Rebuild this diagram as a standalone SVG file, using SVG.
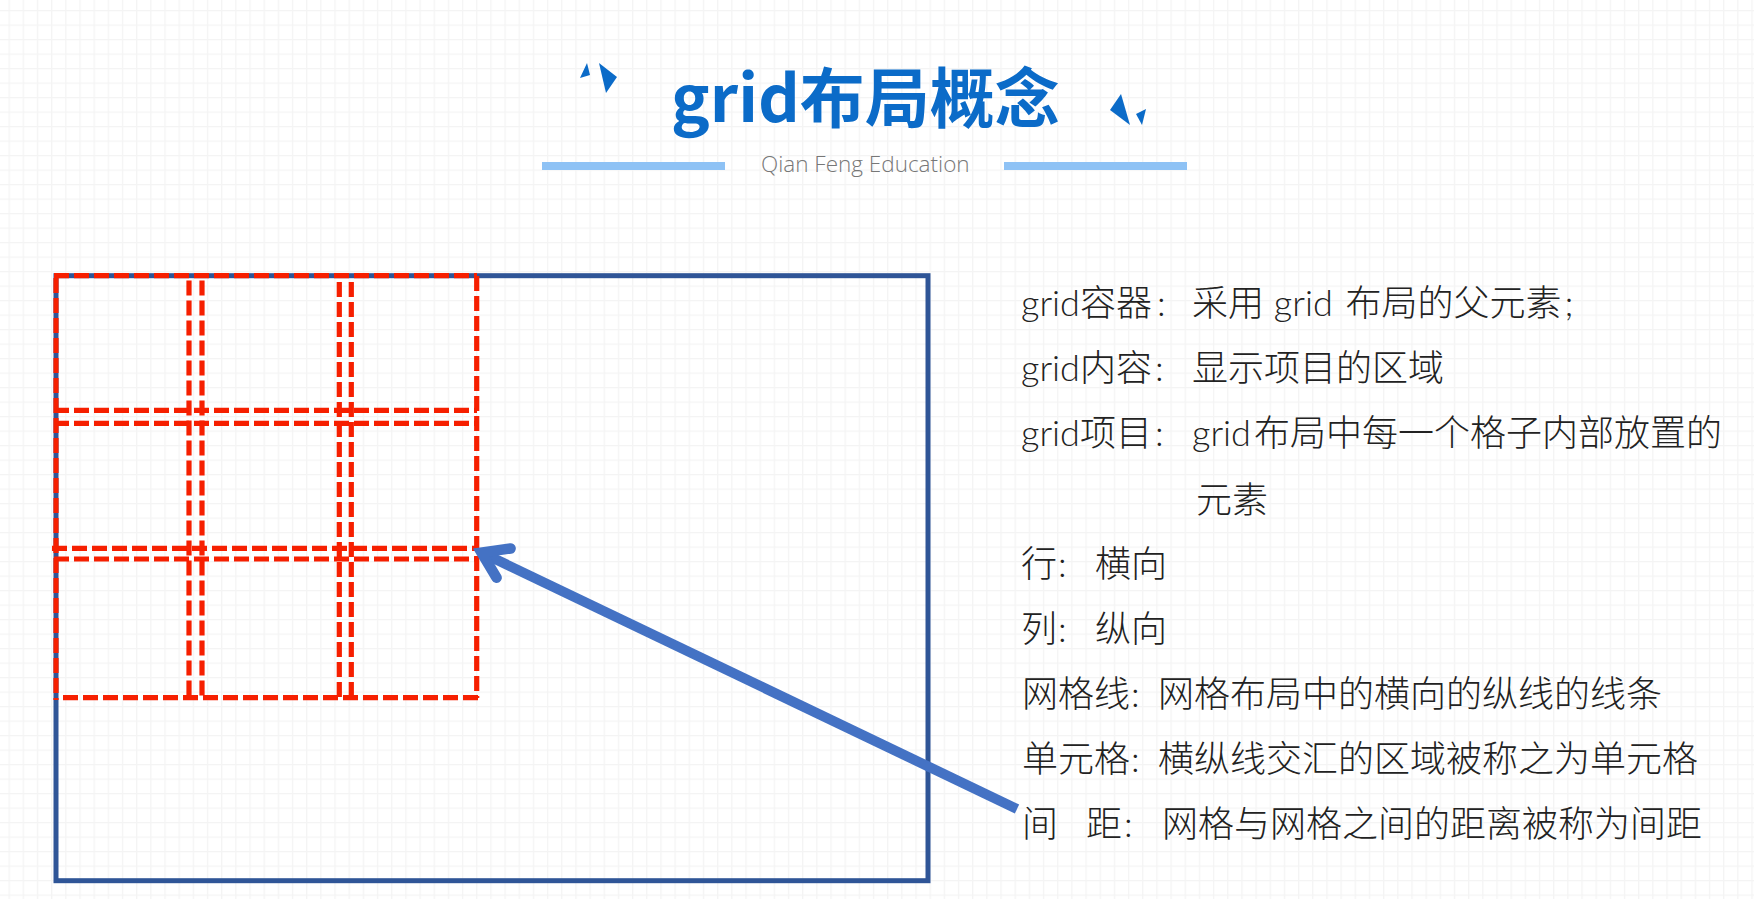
<svg xmlns="http://www.w3.org/2000/svg" width="1754" height="899" viewBox="0 0 1754 899">
<style>
.t{font-family:"Lato","Noto Sans CJK SC","Noto Sans",sans-serif;font-size:36px;font-weight:300;fill:#222}
.ti{font-family:"Noto Sans CJK SC","Noto Sans",sans-serif;font-size:65px;font-weight:700;fill:#0b6bc8}
.sub{font-family:"Open Sans","Noto Sans",sans-serif;font-size:22.5px;font-weight:300;fill:#777}
.bar{fill:#8ec2f5}
.tri{fill:#0b6bc8}
.r{stroke:#f61f00;stroke-width:5.2;stroke-dasharray:15 5;fill:none}
</style>
<defs>
<pattern id="bg" x="8.5" y="10" width="14.17" height="14.5" patternUnits="userSpaceOnUse">
<path d="M0 0V14.5M0 0H14.17" fill="none" stroke="#f4f4f4" stroke-width="2.6"/>
</pattern>
<marker id="head" markerUnits="userSpaceOnUse" markerWidth="60" markerHeight="60" refX="0" refY="0" orient="auto" overflow="visible">
<path d="M-24.5 -16.2L0 0L-24.5 16.2" fill="none" stroke="#4472c4" stroke-width="10.5" stroke-linecap="round" stroke-linejoin="miter"/>
</marker>
</defs>
<rect width="1754" height="899" fill="#fff"/>
<rect width="1754" height="899" fill="url(#bg)"/>
<g id="title">
<polygon class="tri" points="587,63 580,78 590,75"/>
<polygon class="tri" points="599,63 617,77 606,93"/>
<polygon class="tri" points="1121,94 1110,110 1130,125"/>
<polygon class="tri" points="1146,109 1136,114 1142,125"/>
<text class="ti" x="671" y="122">grid布局概念</text>
<rect class="bar" x="542" y="162" width="183" height="8"/>
<rect class="bar" x="1004" y="162" width="183" height="8"/>
<text class="sub" x="761" y="172">Qian Feng Education</text>
</g>
<g id="container">
<rect x="56" y="275.7" width="872" height="605" fill="none" stroke="#2f5597" stroke-width="5"/>
</g>
<g id="grid-lines">
<path class="r" d="M54 275.7H477"/>
<path class="r" d="M54 410.3H477M54 423.3H477"/>
<path class="r" d="M52 548.3H477M54 559H477"/>
<path class="r" d="M63 697.7H479"/>
<path class="r" d="M56 278V700"/>
<path class="r" d="M189 280.5V698M202 280.5V698"/>
<path class="r" d="M339.3 282V698M351.3 282V698"/>
<path class="r" d="M476.7 276V698"/>
</g>
<g id="connectors">
<line x1="1017" y1="809" x2="481.5" y2="552.5" stroke="#4472c4" stroke-width="10" marker-end="url(#head)"/>
</g>
<g id="item-container"><text class="t" y="315.5"><tspan x="1021">grid容器</tspan><tspan x="1157">:</tspan><tspan x="1192">采用 grid </tspan><tspan dx="3">布局的父元素</tspan><tspan dx="3">;</tspan></text></g>
<g id="item-content"><text class="t" y="380.5"><tspan x="1021">grid内容</tspan><tspan x="1155">:</tspan><tspan x="1192">显示项目的区域</tspan></text></g>
<g id="item-item"><text class="t" y="445.5"><tspan x="1021">grid项目</tspan><tspan x="1155">:</tspan><tspan x="1192">grid</tspan><tspan dx="3">布局中每一个格子内部放置的</tspan></text>
<text class="t" x="1196" y="513">元素</text></g>
<g id="item-row"><text class="t" y="577"><tspan x="1021">行</tspan><tspan x="1058">:</tspan><tspan x="1095">横向</tspan></text></g>
<g id="item-col"><text class="t" y="642"><tspan x="1021">列</tspan><tspan x="1058">:</tspan><tspan x="1095">纵向</tspan></text></g>
<g id="item-line"><text class="t" y="707"><tspan x="1022">网格线</tspan><tspan x="1131">:</tspan><tspan x="1158">网格布局中的横向的纵线的线条</tspan></text></g>
<g id="item-cell"><text class="t" y="772"><tspan x="1022">单元格</tspan><tspan x="1131">:</tspan><tspan x="1158">横纵线交汇的区域被称之为单元格</tspan></text></g>
<g id="item-gap"><text class="t" y="837"><tspan x="1022">间</tspan><tspan x="1086">距</tspan><tspan x="1124">:</tspan><tspan x="1162">网格与网格之间的距离被称为间距</tspan></text></g>
</svg>
